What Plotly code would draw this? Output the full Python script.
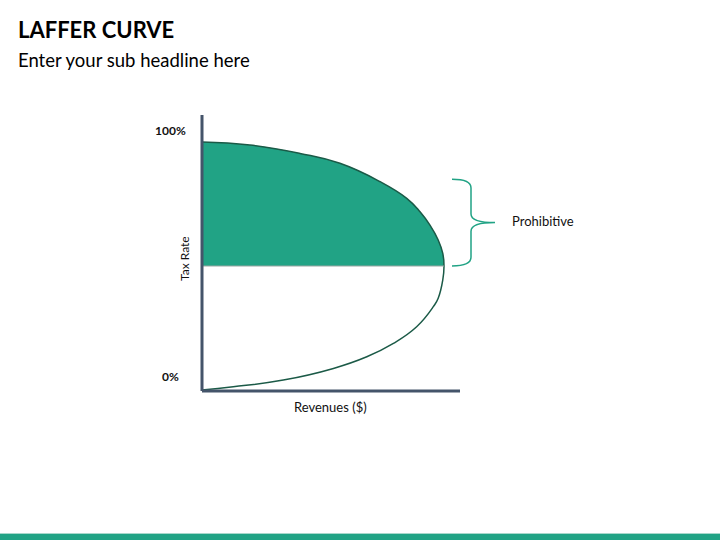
import plotly.graph_objects as go

# ----------------------------------------- #
# Laffer curve
rate_upper = [100, 98.8, 95.4, 91.4, 84.0, 77.3, 71.9, 66.5, 60.5, 55.1, 50.0]
rev_upper = [0, 19.8, 40.5, 57.0, 73.6, 84.6, 90.1, 94.2, 97.6, 99.5, 100]
rate_lower = [50.0, 44.4, 37.0, 33.6, 25.5, 18.8, 13.4, 8.7, 4.0, 1.3, 0]
rev_lower = [100, 99.5, 97.6, 95.6, 88.7, 79.1, 68.1, 54.3, 33.6, 12.9, 0]
peak_rate = 50
brace_rates = [50, 85]
rate_ticks = ['0%', '100%']

GREEN = '#21a385'
DARK = '#1b5a47'
AXIS = '#44546a'
FONT = 'Lato'
SMOOTH = 1.3

W, H = 720, 540
# plot area in screen pixels
PX0, PX1 = 150, 620
PY0, PY1 = 100, 430


def to_x(px):
    return (px - 202) / 2.42


def to_y(py):
    return (390 - py) / 2.48


def paper_x(px):
    return (px - PX0) / (PX1 - PX0)


def paper_y(py):
    return (PY1 - py) / (PY1 - PY0)


rev_all = rev_upper + rev_lower[1:]
rate_all = rate_upper + rate_lower[1:]

fig = go.Figure()

# green prohibitive zone (one point past the peak so the spline bends the same way)
fig.add_scatter(x=rev_upper + rev_lower[1:2], y=rate_upper + rate_lower[1:2],
                mode='lines', fill='tozerox', fillcolor=GREEN,
                line=dict(width=0, shape='spline', smoothing=SMOOTH),
                hoverinfo='skip', showlegend=False)
# blank out the bit below the peak again
fig.add_scatter(x=[0, max(rev_upper), max(rev_upper), 0, 0],
                y=[peak_rate, peak_rate, rate_lower[2], rate_lower[2], peak_rate],
                mode='lines', fill='toself', fillcolor='white',
                line=dict(width=0), hoverinfo='skip', showlegend=False)
# the curve itself
fig.add_scatter(x=rev_all, y=rate_all, mode='lines',
                line=dict(color=DARK, width=1.5, shape='spline', smoothing=SMOOTH),
                hoverinfo='skip', showlegend=False)

shapes = []
# divider at the peak
shapes.append(dict(type='line', xref='x', yref='y', x0=0, x1=max(rev_upper),
                   y0=peak_rate, y1=peak_rate, line=dict(color='#9aa5a2', width=1)))
# axes
y_bot = to_y(391)
shapes.append(dict(type='line', xref='x', yref='y', x0=0, x1=0,
                   y0=y_bot, y1=to_y(115), line=dict(color=AXIS, width=3)))
shapes.append(dict(type='line', xref='x', yref='y', x0=0, x1=to_x(460),
                   y0=y_bot, y1=y_bot, line=dict(color=AXIS, width=3)))

# curly brace
b0, b1 = brace_rates
bm = (b0 + b1) / 2
xa, xm, xt = to_x(452), to_x(471), to_x(495)
d = 3.5
path = (f'M {xa},{b1} Q {xm},{b1} {xm},{b1 - d} L {xm},{bm + d} '
        f'Q {xm},{bm} {xt},{bm} Q {xm},{bm} {xm},{bm - d} '
        f'L {xm},{b0 + d} Q {xm},{b0} {xa},{b0}')
shapes.append(dict(type='path', xref='x', yref='y', path=path,
                   line=dict(color=GREEN, width=1.5)))

# footer bar
shapes.append(dict(type='rect', xref='paper', yref='paper',
                   x0=paper_x(0), x1=paper_x(W),
                   y0=paper_y(541), y1=paper_y(534),
                   fillcolor=GREEN, line=dict(width=0)))
shapes.append(dict(type='line', xref='paper', yref='paper',
                   x0=paper_x(0), x1=paper_x(W),
                   y0=paper_y(533.5), y1=paper_y(533.5),
                   line=dict(color='#a8d8cc', width=1)))

annotations = [
    dict(x=to_x(170), y=to_y(130), text='<b>' + rate_ticks[1] + '</b>'),
    dict(x=to_x(170), y=to_y(376), text='<b>' + rate_ticks[0] + '</b>'),
    dict(x=to_x(184), y=to_y(259), text='Tax Rate', textangle=-90),
    dict(x=to_x(330), y=to_y(407), text='Revenues ($)', size=13),
    dict(x=to_x(510), y=to_y(221), text='Prohibitive', xanchor='left', size=13),
]
for a in annotations:
    size = a.pop('size', 12)
    a.update(xref='x', yref='y', showarrow=False,
             font=dict(family=FONT, size=size, color='#111111'))
    a.setdefault('xanchor', 'center')

annotations.append(dict(xref='paper', yref='paper', x=paper_x(16), y=paper_y(29),
                        xanchor='left', yanchor='middle', showarrow=False,
                        text='<b>LAFFER CURVE</b>',
                        font=dict(family=FONT, size=22, color='#000000')))
annotations.append(dict(xref='paper', yref='paper', x=paper_x(16), y=paper_y(60),
                        xanchor='left', yanchor='middle', showarrow=False,
                        text='Enter your sub headline here',
                        font=dict(family=FONT, size=18.5, color='#000000')))

fig.update_layout(
    width=W, height=H,
    margin=dict(l=PX0, r=W - PX1, t=PY0, b=H - PY1),
    plot_bgcolor='white', paper_bgcolor='white',
    shapes=shapes, annotations=annotations,
    hovermode=False,
    xaxis=dict(range=[to_x(PX0), to_x(PX1)], visible=False, fixedrange=True),
    yaxis=dict(range=[to_y(PY1), to_y(PY0)], visible=False, fixedrange=True),
)

# drop the browser's default page margin so the slide sits at 0,0
fig.write_html('out.html', config={'displayModeBar': False},
               post_script="document.body.style.margin='0';")
